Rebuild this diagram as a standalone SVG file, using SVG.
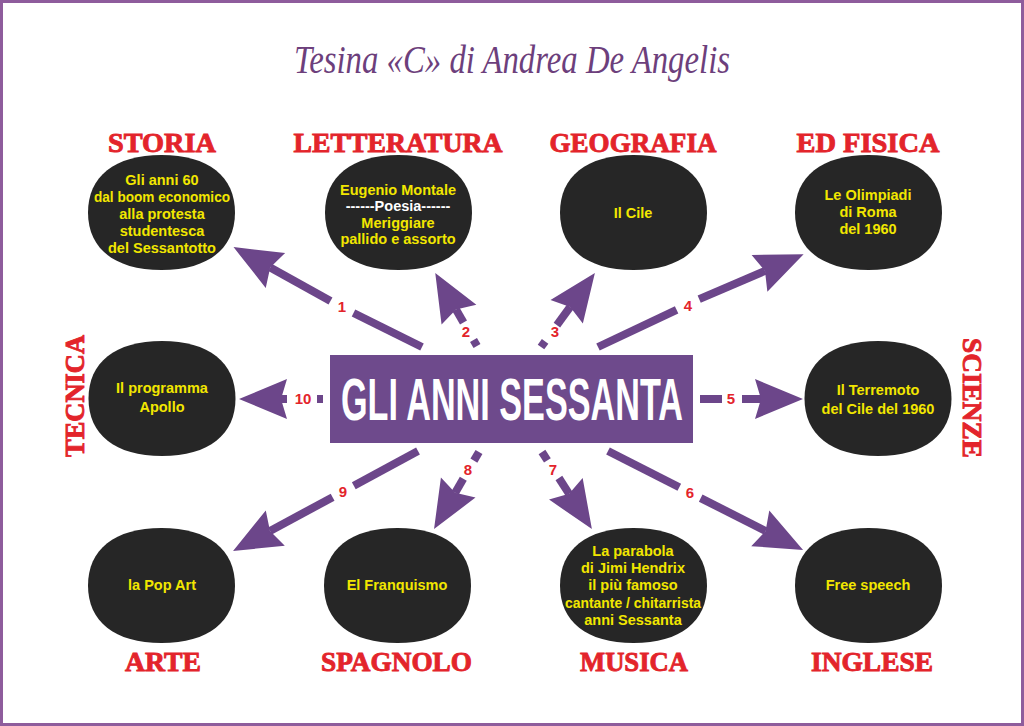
<svg xmlns="http://www.w3.org/2000/svg" xmlns:xlink="http://www.w3.org/1999/xlink" width="1024" height="726" viewBox="0 0 1024 726">
<style>
.oval{fill:#262626}
.t{font-family:"Liberation Sans",Arial,sans-serif;font-weight:bold;font-size:14.5px;fill:#f2e600;text-anchor:middle}
.w{fill:#ffffff}
.cat{font-family:"Liberation Serif","Times New Roman",serif;font-weight:bold;font-size:28px;fill:#e3242b;stroke:#e3242b;stroke-width:0.9;text-anchor:middle}
.num{font-family:"Liberation Sans",Arial,sans-serif;font-weight:bold;font-size:15px;fill:#e3242b;text-anchor:middle}
.ln{stroke:#6c468a;stroke-width:8;fill:none}
.ar{marker-end:url(#ah)}
</style>
<defs>
<path id="oval" d="M-73.5,0 C-73.5,-36 -47,-57.5 0,-57.5 C47,-57.5 73.5,-36 73.5,0 C73.5,36 47,57.5 0,57.5 C-47,57.5 -73.5,36 -73.5,0 Z"/>
<marker id="ah" markerUnits="userSpaceOnUse" markerWidth="60" markerHeight="50" viewBox="-50 -25 60 50" refX="-42" refY="0" orient="auto">
<path d="M0,0 L-48,-20 L-42,0 L-48,20 Z" fill="#6c468a"/>
</marker>
</defs>
<rect x="0" y="0" width="1024" height="726" fill="#ffffff"/>
<rect x="1.5" y="1.5" width="1021" height="723" fill="none" stroke="#8e5c9c" stroke-width="3"/>
<text x="512" y="73" font-family="'Liberation Serif','Times New Roman',serif" font-style="italic" font-size="40" fill="#6d3f7c" text-anchor="middle" textLength="436" lengthAdjust="spacingAndGlyphs">Tesina «C» di Andrea De Angelis</text>

<g id="connectors">
<path class="ln" d="M422,347 L353.5,313"/>
<path class="ln ar" d="M330.5,301 L270.2,267.5"/>
<path class="ln" d="M477,346 L473.5,340"/>
<path class="ln ar" d="M463.5,322.6 L456,309.4"/>
<path class="ln" d="M541,347 L545.1,341.3"/>
<path class="ln ar" d="M556.9,325.2 L570.2,306.9"/>
<path class="ln" d="M598,347 L676.6,309.8"/>
<path class="ln ar" d="M699.2,299.1 L765,270.9"/>
<path class="ln" d="M700,399 L722,399"/>
<path class="ln ar" d="M742,399 L761,399"/>
<path class="ln" d="M608,451 L679.3,487.2"/>
<path class="ln ar" d="M700.7,498.1 L765.6,531"/>
<path class="ln" d="M542,452 L547.4,460.4"/>
<path class="ln ar" d="M558.9,478 L569.1,493.8"/>
<path class="ln" d="M479,452 L473.9,460.6"/>
<path class="ln ar" d="M463.3,478.8 L455.2,492.7"/>
<path class="ln" d="M418,451 L353.8,485.7"/>
<path class="ln ar" d="M332.6,497.2 L270,531"/>
<path class="ln" d="M323,399 L317,399"/>
<path class="ln ar" d="M287,399 L281,399"/>
<text class="num" x="342" y="312">1</text>
<text class="num" x="466" y="337">2</text>
<text class="num" x="555" y="337">3</text>
<text class="num" x="688" y="311">4</text>
<text class="num" x="731" y="404">5</text>
<text class="num" x="690" y="498">6</text>
<text class="num" x="553" y="475">7</text>
<text class="num" x="468" y="475">8</text>
<text class="num" x="343" y="497">9</text>
<text class="num" x="303" y="404">10</text>
</g>

<g id="center">
<rect x="330" y="355" width="363" height="88" fill="#6e4a8c"/>
<text transform="translate(512,420) scale(0.57,1)" x="0" y="0" font-family="'Liberation Sans',Arial,sans-serif" font-weight="bold" font-size="60" fill="#ffffff" text-anchor="middle">GLI ANNI SESSANTA</text>
</g>

<g id="storia">
<text class="cat" x="162" y="152" textLength="108" lengthAdjust="spacingAndGlyphs">STORIA</text>
<use xlink:href="#oval" class="oval" x="161.5" y="212.5"/>
<text class="t" x="162" y="185">Gli anni 60</text>
<text class="t" x="162" y="202" textLength="136" lengthAdjust="spacingAndGlyphs">dal boom economico</text>
<text class="t" x="162" y="219">alla protesta</text>
<text class="t" x="162" y="236">studentesca</text>
<text class="t" x="162" y="253">del Sessantotto</text>
</g>

<g id="letteratura">
<text class="cat" x="398" y="152" textLength="209" lengthAdjust="spacingAndGlyphs">LETTERATURA</text>
<use xlink:href="#oval" class="oval" x="398.5" y="212.5"/>
<text class="t" x="398" y="195">Eugenio Montale</text>
<text class="t w" x="398" y="211">------Poesia------</text>
<text class="t" x="398" y="228">Meriggiare</text>
<text class="t" x="398" y="244">pallido e assorto</text>
</g>

<g id="geografia">
<text class="cat" x="633" y="152" textLength="167" lengthAdjust="spacingAndGlyphs">GEOGRAFIA</text>
<use xlink:href="#oval" class="oval" x="633.5" y="212.5"/>
<text class="t" x="633" y="218">Il Cile</text>
</g>

<g id="edfisica">
<text class="cat" x="868" y="152" textLength="143" lengthAdjust="spacingAndGlyphs">ED FISICA</text>
<use xlink:href="#oval" class="oval" x="868.5" y="212.5"/>
<text class="t" x="868" y="200">Le Olimpiadi</text>
<text class="t" x="868" y="217">di Roma</text>
<text class="t" x="868" y="234">del 1960</text>
</g>

<g id="tecnica">
<text class="cat" transform="translate(84,396) rotate(-90)" x="0" y="0" textLength="122" lengthAdjust="spacingAndGlyphs">TECNICA</text>
<use xlink:href="#oval" class="oval" x="162" y="398.5"/>
<text class="t" x="162" y="393">Il programma</text>
<text class="t" x="162" y="412">Apollo</text>
</g>

<g id="scienze">
<text class="cat" transform="translate(963,398) rotate(90)" x="0" y="0" textLength="120" lengthAdjust="spacingAndGlyphs">SCIENZE</text>
<use xlink:href="#oval" class="oval" x="878" y="398.5"/>
<text class="t" x="878" y="395">Il Terremoto</text>
<text class="t" x="878" y="414">del Cile del 1960</text>
</g>

<g id="arte">
<use xlink:href="#oval" class="oval" x="161.5" y="585.5"/>
<text class="t" x="162" y="590">la Pop Art</text>
<text class="cat" x="163" y="671" textLength="76" lengthAdjust="spacingAndGlyphs">ARTE</text>
</g>

<g id="spagnolo">
<use xlink:href="#oval" class="oval" x="397.5" y="585.5"/>
<text class="t" x="397" y="590">El Franquismo</text>
<text class="cat" x="396.5" y="671" textLength="151" lengthAdjust="spacingAndGlyphs">SPAGNOLO</text>
</g>

<g id="musica">
<use xlink:href="#oval" class="oval" x="633.5" y="585.5"/>
<text class="t" x="633" y="556">La parabola</text>
<text class="t" x="633" y="573">di Jimi Hendrix</text>
<text class="t" x="633" y="590">il più famoso</text>
<text class="t" x="633" y="608" textLength="136" lengthAdjust="spacingAndGlyphs">cantante / chitarrista</text>
<text class="t" x="633" y="625">anni Sessanta</text>
<text class="cat" x="634" y="671" textLength="108" lengthAdjust="spacingAndGlyphs">MUSICA</text>
</g>

<g id="inglese">
<use xlink:href="#oval" class="oval" x="868.5" y="585.5"/>
<text class="t" x="868" y="590">Free speech</text>
<text class="cat" x="872" y="671" textLength="122" lengthAdjust="spacingAndGlyphs">INGLESE</text>
</g>
</svg>
